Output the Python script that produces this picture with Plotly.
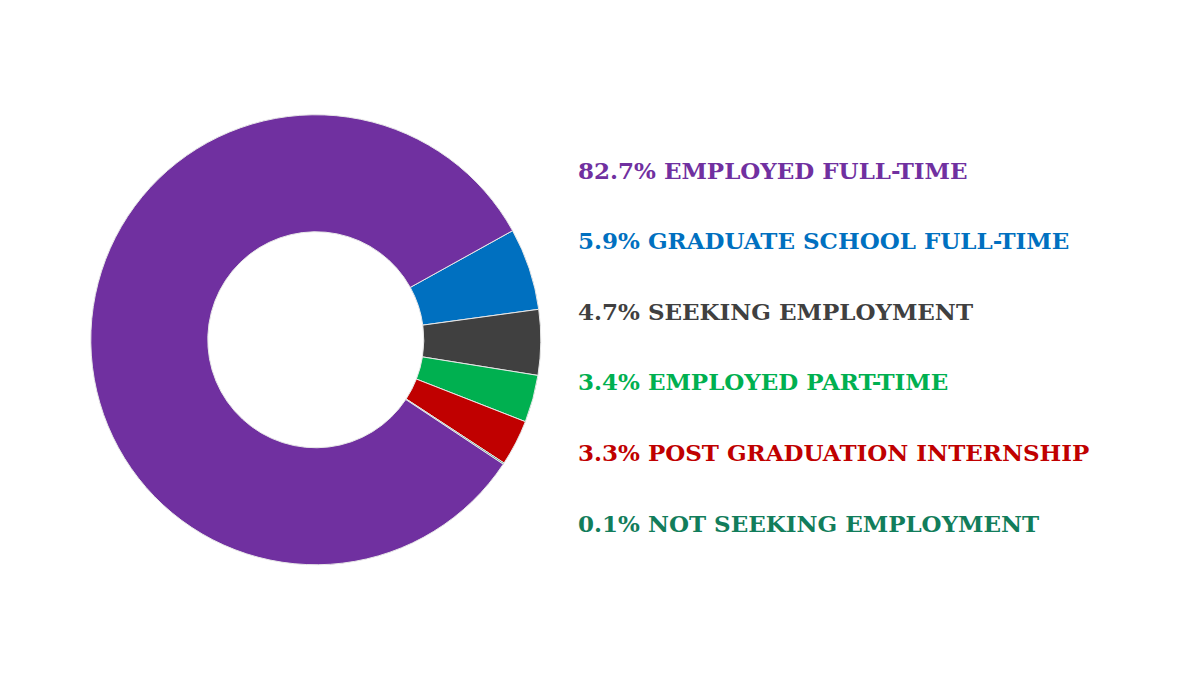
import plotly.graph_objects as go

# outcome categories, clockwise starting from the blue slice
labels = ["GRADUATE SCHOOL FULL-TIME", "SEEKING EMPLOYMENT", "EMPLOYED PART-TIME",
          "POST GRADUATION INTERNSHIP", "NOT SEEKING EMPLOYMENT", "EMPLOYED FULL-TIME"]
values = [5.9, 4.7, 3.4, 3.3, 0.1, 82.7]
colors = ["#0070C0", "#404040", "#00B050", "#C00000", "#127D5B", "#7030A0"]

# legend text order (top to bottom)
legend_order = [5, 0, 1, 2, 3, 4]

fig = go.Figure()
fig.add_trace(go.Pie(
    labels=labels, values=values, hole=0.48, sort=False, direction="clockwise",
    rotation=61, marker=dict(colors=colors, line=dict(color="#e8e8e8", width=1)),
    textinfo="none", hoverinfo="label+percent", showlegend=False,
    domain=dict(x=[0.069, 0.444], y=[0.175, 0.842]),
))

for k, i in enumerate(legend_order):
    fig.add_annotation(
        x=568 / 1200, y=1 - (162 + 70.6 * k) / 675, xref="paper", yref="paper",
        xanchor="left", yanchor="middle", showarrow=False,
        text="<b>%.1f%% %s</b>" % (values[i], labels[i]),
        font=dict(family="DejaVu Serif", size=23, color=colors[i]),
    )

fig.update_layout(width=1200, height=675, margin=dict(l=0, r=0, t=0, b=0),
                  paper_bgcolor="white", plot_bgcolor="white")
fig.write_html("out.html")
